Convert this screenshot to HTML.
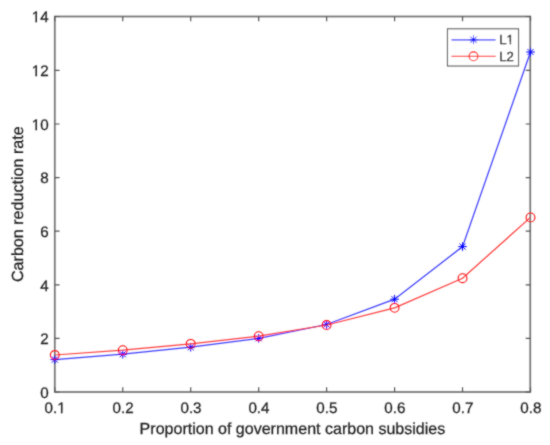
<!DOCTYPE html><html><head><meta charset="utf-8"><style>html,body{margin:0;padding:0;background:#fff;}svg{display:block;}</style></head><body>
<svg width="550" height="445" viewBox="0 0 550 445" font-family="&quot;Liberation Sans&quot;, Arial, sans-serif" text-rendering="geometricPrecision">
<defs><filter id="bl" x="0" y="0" width="550" height="445" filterUnits="userSpaceOnUse"><feConvolveMatrix order="3" kernelMatrix="1 2 1 2 12 2 1 2 1" preserveAlpha="false" edgeMode="none"/></filter></defs>
<rect width="550" height="445" fill="#fff"/>
<g filter="url(#bl)">
<rect x="54.8" y="16.5" width="475.45" height="375.5" fill="none" stroke="#737373" stroke-width="1.7"/>
<path d="M54.80 392.0v-4.75M54.80 16.5v4.75M122.76 392.0v-4.75M122.76 16.5v4.75M190.71 392.0v-4.75M190.71 16.5v4.75M258.67 392.0v-4.75M258.67 16.5v4.75M326.63 392.0v-4.75M326.63 16.5v4.75M394.59 392.0v-4.75M394.59 16.5v4.75M462.54 392.0v-4.75M462.54 16.5v4.75M530.50 392.0v-4.75M530.50 16.5v4.75M54.8 392.00h4.75M530.5 392.00h-4.75M54.8 338.40h4.75M530.5 338.40h-4.75M54.8 284.80h4.75M530.5 284.80h-4.75M54.8 231.20h4.75M530.5 231.20h-4.75M54.8 177.60h4.75M530.5 177.60h-4.75M54.8 124.00h4.75M530.5 124.00h-4.75M54.8 70.40h4.75M530.5 70.40h-4.75M54.8 16.50h4.75M530.5 16.50h-4.75" stroke="#555555" stroke-width="1.2" fill="none"/>
<text x="55.1" y="413" font-size="15.2" fill="#1e1e1e" stroke="#1e1e1e" stroke-width="0.25" text-anchor="middle" clip-path="url(#fc0)">0.1</text>
<text x="123.06" y="413" font-size="15.2" fill="#1e1e1e" stroke="#1e1e1e" stroke-width="0.25" text-anchor="middle">0.2</text>
<text x="191.01" y="413" font-size="15.2" fill="#1e1e1e" stroke="#1e1e1e" stroke-width="0.25" text-anchor="middle">0.3</text>
<text x="258.97" y="413" font-size="15.2" fill="#1e1e1e" stroke="#1e1e1e" stroke-width="0.25" text-anchor="middle">0.4</text>
<text x="326.93" y="413" font-size="15.2" fill="#1e1e1e" stroke="#1e1e1e" stroke-width="0.25" text-anchor="middle">0.5</text>
<text x="394.89" y="413" font-size="15.2" fill="#1e1e1e" stroke="#1e1e1e" stroke-width="0.25" text-anchor="middle">0.6</text>
<text x="462.84" y="413" font-size="15.2" fill="#1e1e1e" stroke="#1e1e1e" stroke-width="0.25" text-anchor="middle">0.7</text>
<text x="530.8" y="413" font-size="15.2" fill="#1e1e1e" stroke="#1e1e1e" stroke-width="0.25" text-anchor="middle">0.8</text>
<text x="48.6" y="398" font-size="15.2" fill="#1e1e1e" stroke="#1e1e1e" stroke-width="0.25" text-anchor="end">0</text>
<text x="48.6" y="344" font-size="15.2" fill="#1e1e1e" stroke="#1e1e1e" stroke-width="0.25" text-anchor="end">2</text>
<text x="48.6" y="291" font-size="15.2" fill="#1e1e1e" stroke="#1e1e1e" stroke-width="0.25" text-anchor="end">4</text>
<text x="48.6" y="237" font-size="15.2" fill="#1e1e1e" stroke="#1e1e1e" stroke-width="0.25" text-anchor="end">6</text>
<text x="48.6" y="183" font-size="15.2" fill="#1e1e1e" stroke="#1e1e1e" stroke-width="0.25" text-anchor="end">8</text>
<text x="48.6" y="130" font-size="15.2" fill="#1e1e1e" stroke="#1e1e1e" stroke-width="0.25" text-anchor="end" clip-path="url(#fc1)">10</text>
<text x="48.6" y="76" font-size="15.2" fill="#1e1e1e" stroke="#1e1e1e" stroke-width="0.25" text-anchor="end" clip-path="url(#fc2)">12</text>
<text x="48.6" y="22" font-size="15.2" fill="#1e1e1e" stroke="#1e1e1e" stroke-width="0.25" text-anchor="end" clip-path="url(#fc3)">14</text>
<text x="292.45" y="434" font-size="16.05" fill="#1e1e1e" stroke="#1e1e1e" stroke-width="0.25" text-anchor="middle">Proportion of government carbon subsidies</text>
<text transform="translate(23.2 204.2) rotate(-90)" font-size="16.1" fill="#1e1e1e" stroke="#1e1e1e" stroke-width="0.25" text-anchor="middle">Carbon reduction rate</text>
<polyline points="54.80,359.60 122.76,354.20 190.71,347.20 258.67,338.30 326.63,324.50 394.59,299.20 462.54,246.60 530.50,52.00" fill="none" stroke="#3c3cff" stroke-width="1.25"/>
<path d="M50.50 359.60H59.10M54.80 355.30V363.90M51.76 356.56L57.84 362.64M51.76 362.64L57.84 356.56M118.46 354.20H127.06M122.76 349.90V358.50M119.72 351.16L125.80 357.24M119.72 357.24L125.80 351.16M186.41 347.20H195.01M190.71 342.90V351.50M187.67 344.16L193.75 350.24M187.67 350.24L193.75 344.16M254.37 338.30H262.97M258.67 334.00V342.60M255.63 335.26L261.71 341.34M255.63 341.34L261.71 335.26M322.33 324.50H330.93M326.63 320.20V328.80M323.59 321.46L329.67 327.54M323.59 327.54L329.67 321.46M390.29 299.20H398.89M394.59 294.90V303.50M391.55 296.16L397.63 302.24M391.55 302.24L397.63 296.16M458.24 246.60H466.84M462.54 242.30V250.90M459.50 243.56L465.58 249.64M459.50 249.64L465.58 243.56M526.20 52.00H534.80M530.50 47.70V56.30M527.46 48.96L533.54 55.04M527.46 55.04L533.54 48.96" stroke="#0000ff" stroke-width="1.0" fill="none"/>
<polyline points="54.80,355.00 122.76,350.20 190.71,343.80 258.67,336.20 326.63,325.00 394.59,307.80 462.54,278.20 530.50,217.40" fill="none" stroke="#ff3c3c" stroke-width="1.25"/>
<circle cx="54.80" cy="355.00" r="4.4" fill="none" stroke="#ff0000" stroke-width="1.05"/>
<circle cx="122.76" cy="350.20" r="4.4" fill="none" stroke="#ff0000" stroke-width="1.05"/>
<circle cx="190.71" cy="343.80" r="4.4" fill="none" stroke="#ff0000" stroke-width="1.05"/>
<circle cx="258.67" cy="336.20" r="4.4" fill="none" stroke="#ff0000" stroke-width="1.05"/>
<circle cx="326.63" cy="325.00" r="4.4" fill="none" stroke="#ff0000" stroke-width="1.05"/>
<circle cx="394.59" cy="307.80" r="4.4" fill="none" stroke="#ff0000" stroke-width="1.05"/>
<circle cx="462.54" cy="278.20" r="4.4" fill="none" stroke="#ff0000" stroke-width="1.05"/>
<circle cx="530.50" cy="217.40" r="4.4" fill="none" stroke="#ff0000" stroke-width="1.05"/>
<rect x="447.5" y="28.8" width="71.0" height="37.2" fill="#fff" stroke="#555555" stroke-width="1.1"/>
<path d="M451.5 39.8H495.6" stroke="#3c3cff" stroke-width="1.25"/>
<path d="M469.20 39.80H477.80M473.50 35.50V44.10M470.46 36.76L476.54 42.84M470.46 42.84L476.54 36.76" stroke="#0000ff" stroke-width="1.0" fill="none"/>
<path d="M451.5 56.3H495.6" stroke="#ff3c3c" stroke-width="1.25"/>
<circle cx="473.5" cy="56.3" r="4.4" fill="none" stroke="#ff0000" stroke-width="1.05"/>
<text x="499.2" y="44" font-size="13.2" fill="#0a0a0a" stroke="#0a0a0a" stroke-width="0.25" clip-path="url(#fc4)">L1</text>
<text x="499.2" y="61" font-size="13.2" fill="#0a0a0a" stroke="#0a0a0a" stroke-width="0.25">L2</text>
</g><defs><clipPath id="fc0" clipPathUnits="userSpaceOnUse"><path clip-rule="evenodd" d="M-2000 -2000H2000V2000H-2000ZM58.000 411.000H60.909V414.000H58.000ZM62.502 411.000H66.000V414.000H62.502Z"/></clipPath><clipPath id="fc1" clipPathUnits="userSpaceOnUse"><path clip-rule="evenodd" d="M-2000 -2000H2000V2000H-2000ZM32.000 128.000H35.390V131.000H32.000ZM36.984 128.000H40.000V131.000H36.984Z"/></clipPath><clipPath id="fc2" clipPathUnits="userSpaceOnUse"><path clip-rule="evenodd" d="M-2000 -2000H2000V2000H-2000ZM32.000 74.000H35.390V77.000H32.000ZM36.984 74.000H40.000V77.000H36.984Z"/></clipPath><clipPath id="fc3" clipPathUnits="userSpaceOnUse"><path clip-rule="evenodd" d="M-2000 -2000H2000V2000H-2000ZM32.000 20.000H35.390V23.000H32.000ZM36.984 20.000H40.000V23.000H36.984Z"/></clipPath><clipPath id="fc4" clipPathUnits="userSpaceOnUse"><path clip-rule="evenodd" d="M-2000 -2000H2000V2000H-2000ZM507.000 42.000H509.736V45.000H507.000ZM511.152 42.000H514.000V45.000H511.152Z"/></clipPath></defs></svg></body></html>
